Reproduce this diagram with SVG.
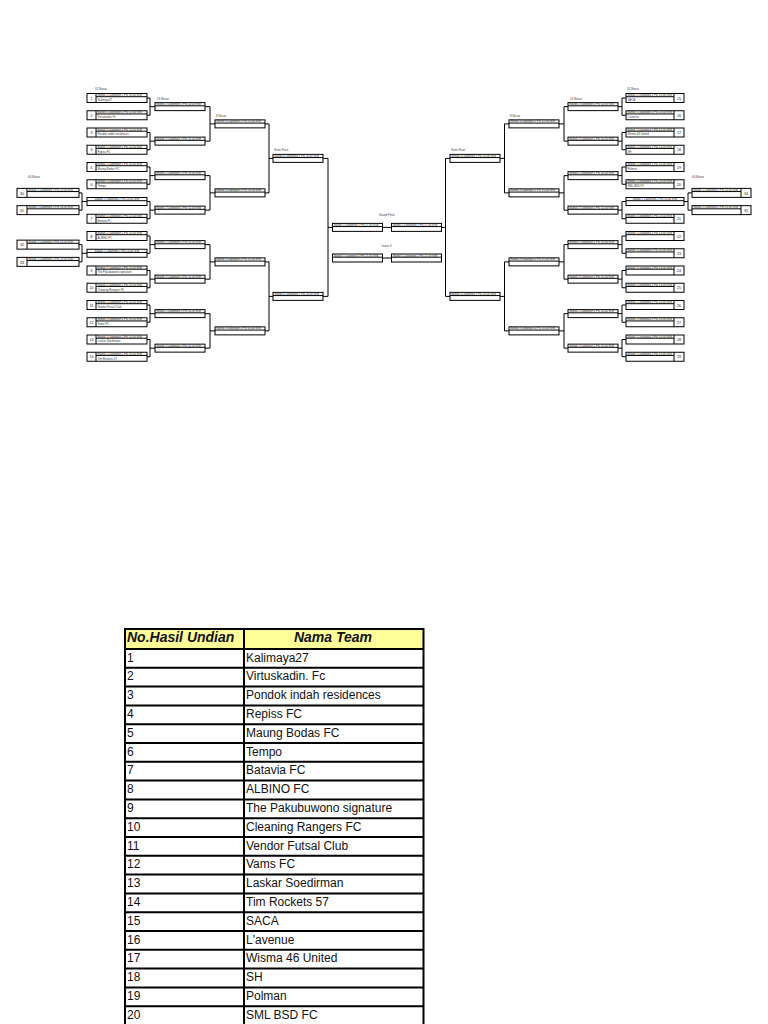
<svg xmlns="http://www.w3.org/2000/svg" xmlns:xlink="http://www.w3.org/1999/xlink" width="768" height="1024" viewBox="0 0 768 1024">
<style>
.b{fill:#fff;stroke:#000;stroke-width:1}
.l{fill:none;stroke:#000;stroke-width:1}
.t{font-family:"Liberation Sans",Arial,sans-serif;font-size:2.8px;fill:#333}
.n{font-family:"Liberation Sans",Arial,sans-serif;font-size:3.6px;fill:#111;text-anchor:middle}
.lab{font-family:"Liberation Sans",Arial,sans-serif;font-size:3px;fill:#444}
.c{text-anchor:middle}
.tl{fill:none;stroke:#000;stroke-width:2}
.tt{font-family:"Liberation Sans",Arial,sans-serif;font-size:12px;fill:#111}
.th{font-family:"Liberation Sans",Arial,sans-serif;font-size:14px;font-weight:bold;font-style:italic;fill:#111}
</style>
<defs>
<g id="tbL"><rect class="b" x="0" y="0" width="60" height="9"/><path class="l" d="M9 0V9M9 3.2H60"/></g>
<g id="tbR"><rect class="b" x="0" y="0" width="58" height="9"/><path class="l" d="M48 0V9M0 3.2H48"/></g>
<g id="pbL"><rect class="b" x="0" y="0" width="62" height="9"/><path class="l" d="M10 0V9M10 3.2H62"/></g>
<g id="pbR"><rect class="b" x="0" y="0" width="59" height="9"/><path class="l" d="M49 0V9M0 3.2H49"/></g>
<g id="mb"><rect class="b" x="0" y="0" width="50" height="8"/><path class="l" d="M0 3.2H50"/></g>
<g id="wb"><rect class="b" x="0" y="0" width="60" height="8"/><path class="l" d="M0 3.2H60"/></g>
<g id="wbR"><rect class="b" x="0" y="0" width="58" height="8"/><path class="l" d="M0 3.2H58"/></g>
</defs>

<g id="labels">
<text class="lab" x="28" y="178">64 Besar</text>
<text class="lab" x="95" y="90">32 Besar</text>
<text class="lab" x="157" y="100">16 Besar</text>
<text class="lab" x="216" y="117">8 Besar</text>
<text class="lab" x="274" y="151">Semi Final</text>
<text class="lab c" x="386.5" y="216">Grand Final</text>
<text class="lab c" x="386.5" y="247">Juara 3</text>
<text class="lab" x="451" y="151">Semi Final</text>
<text class="lab" x="510" y="117">8 Besar</text>
<text class="lab" x="570" y="100">16 Besar</text>
<text class="lab" x="627" y="90">32 Besar</text>
<text class="lab" x="692" y="178">64 Besar</text>
</g>

<g id="connectors">
<path class="l" d="M79 192.875H82V210.125H79M82 201.5H87M79 244.625H82V261.875H79M82 253.25H87"/>
<path class="l" d="M147 98H150V115.25H147M150 106.625H155M147 132.5H150V149.75H147M150 141.125H155M147 167H150V184.25H147M150 175.625H155M147 201.5H150V218.75H147M150 210.125H155M147 236H150V253.25H147M150 244.625H155M147 270.5H150V287.75H147M150 279.125H155M147 305H150V322.25H147M150 313.625H155M147 339.5H150V356.75H147M150 348.125H155"/>
<path class="l" d="M205 106.625H210V141.125H205M210 123.875H215M205 175.625H210V210.125H205M210 192.875H215M205 244.625H210V279.125H205M210 261.875H215M205 313.625H210V348.125H205M210 330.875H215"/>
<path class="l" d="M265 123.875H269V192.875H265M269 158.375H273M265 261.875H269V330.875H265M269 296.375H273"/>
<path class="l" d="M323 158.375H328V296.375H323M328 227.375H332.5"/>
<path class="l" d="M382.5 227.375H391.5M382.5 258H391.5"/>
<path class="l" d="M450 158.375H445.5V296.375H450M445.5 227.375H441.5"/>
<path class="l" d="M509 123.875H504.5V192.875H509M504.5 158.375H500M509 261.875H504.5V330.875H509M504.5 296.375H500"/>
<path class="l" d="M568 106.625H564V141.125H568M564 123.875H559M568 175.625H564V210.125H568M564 192.875H559M568 244.625H564V279.125H568M564 261.875H559M568 313.625H564V348.125H568M564 330.875H559"/>
<path class="l" d="M626 98H622V115.25H626M622 106.625H618M626 132.5H622V149.75H626M622 141.125H618M626 167H622V184.25H626M622 175.625H618M626 201.5H622V218.75H626M622 210.125H618M626 236H622V253.25H626M622 244.625H618M626 270.5H622V287.75H626M622 279.125H618M626 305H622V322.25H626M622 313.625H618M626 339.5H622V356.75H626M622 348.125H618"/>
<path class="l" d="M692 192.875H688V210.125H692M688 201.5H684"/>
</g>

<!-- left preliminary -->
<g id="t30" transform="translate(17,188.375)"><use href="#pbL"/><text class="n" x="5" y="6.2">30</text><text class="t" x="11.5" y="2.5">Babak 1 Lapangan 1 Pkl 13.00 WIB</text></g>
<g id="t31" transform="translate(17,205.625)"><use href="#pbL"/><text class="n" x="5" y="6.2">31</text><text class="t" x="11.5" y="2.5">Babak 1 Lapangan 1 Pkl 13.00 WIB</text></g>
<g id="t32" transform="translate(17,240.125)"><use href="#pbL"/><text class="n" x="5" y="6.2">32</text><text class="t" x="11.5" y="2.5">Babak 1 Lapangan 2 Pkl 13.00 WIB</text></g>
<g id="t33" transform="translate(17,257.375)"><use href="#pbL"/><text class="n" x="5" y="6.2">33</text><text class="t" x="11.5" y="2.5">Babak 1 Lapangan 2 Pkl 13.00 WIB</text></g>

<!-- left round 1 -->
<g id="t1" transform="translate(87,93.5)"><use href="#tbL"/><text class="n" x="4.5" y="6.2">1</text><text class="t" x="10.5" y="2.5">Babak 1 Lapangan 1 Pkl 13.00 WIB</text><text class="t" x="10.5" y="7.4">Kalimaya27</text></g>
<g id="t2" transform="translate(87,110.75)"><use href="#tbL"/><text class="n" x="4.5" y="6.2">2</text><text class="t" x="10.5" y="2.5">Babak 1 Lapangan 1 Pkl 13.00 WIB</text><text class="t" x="10.5" y="7.4">Virtuskadin. Fc</text></g>
<g id="t3" transform="translate(87,128)"><use href="#tbL"/><text class="n" x="4.5" y="6.2">3</text><text class="t" x="10.5" y="2.5">Babak 1 Lapangan 1 Pkl 13.00 WIB</text><text class="t" x="10.5" y="7.4">Pondok indah residences</text></g>
<g id="t4" transform="translate(87,145.25)"><use href="#tbL"/><text class="n" x="4.5" y="6.2">4</text><text class="t" x="10.5" y="2.5">Babak 1 Lapangan 1 Pkl 13.00 WIB</text><text class="t" x="10.5" y="7.4">Repiss FC</text></g>
<g id="t5" transform="translate(87,162.5)"><use href="#tbL"/><text class="n" x="4.5" y="6.2">5</text><text class="t" x="10.5" y="2.5">Babak 1 Lapangan 1 Pkl 13.00 WIB</text><text class="t" x="10.5" y="7.4">Maung Bodas FC</text></g>
<g id="t6" transform="translate(87,179.75)"><use href="#tbL"/><text class="n" x="4.5" y="6.2">6</text><text class="t" x="10.5" y="2.5">Babak 1 Lapangan 1 Pkl 13.00 WIB</text><text class="t" x="10.5" y="7.4">Tempo</text></g>
<g id="w3031" transform="translate(87,197.5)"><use href="#wb"/><text class="t c" x="30" y="2.5">Babak 2 Lapangan 1 Pkl 14.00 WIB</text></g>
<g id="t7" transform="translate(87,214.25)"><use href="#tbL"/><text class="n" x="4.5" y="6.2">7</text><text class="t" x="10.5" y="2.5">Babak 1 Lapangan 1 Pkl 13.00 WIB</text><text class="t" x="10.5" y="7.4">Batavia FC</text></g>
<g id="t8" transform="translate(87,231.5)"><use href="#tbL"/><text class="n" x="4.5" y="6.2">8</text><text class="t" x="10.5" y="2.5">Babak 1 Lapangan 1 Pkl 13.00 WIB</text><text class="t" x="10.5" y="7.4">ALBINO FC</text></g>
<g id="w3233" transform="translate(87,249.25)"><use href="#wb"/><text class="t c" x="30" y="2.5">Babak 2 Lapangan 2 Pkl 14.00 WIB</text></g>
<g id="t9" transform="translate(87,266)"><use href="#tbL"/><text class="n" x="4.5" y="6.2">9</text><text class="t" x="10.5" y="2.5">Babak 1 Lapangan 2 Pkl 13.00 WIB</text><text class="t" x="10.5" y="7.4">The Pakubuwono signature</text></g>
<g id="t10" transform="translate(87,283.25)"><use href="#tbL"/><text class="n" x="4.5" y="6.2">10</text><text class="t" x="10.5" y="2.5">Babak 1 Lapangan 2 Pkl 13.00 WIB</text><text class="t" x="10.5" y="7.4">Cleaning Rangers FC</text></g>
<g id="t11" transform="translate(87,300.5)"><use href="#tbL"/><text class="n" x="4.5" y="6.2">11</text><text class="t" x="10.5" y="2.5">Babak 1 Lapangan 2 Pkl 13.00 WIB</text><text class="t" x="10.5" y="7.4">Vendor Futsal Club</text></g>
<g id="t12" transform="translate(87,317.75)"><use href="#tbL"/><text class="n" x="4.5" y="6.2">12</text><text class="t" x="10.5" y="2.5">Babak 1 Lapangan 2 Pkl 13.00 WIB</text><text class="t" x="10.5" y="7.4">Vams FC</text></g>
<g id="t13" transform="translate(87,335)"><use href="#tbL"/><text class="n" x="4.5" y="6.2">13</text><text class="t" x="10.5" y="2.5">Babak 1 Lapangan 2 Pkl 13.00 WIB</text><text class="t" x="10.5" y="7.4">Laskar Soedirman</text></g>
<g id="t14" transform="translate(87,352.25)"><use href="#tbL"/><text class="n" x="4.5" y="6.2">14</text><text class="t" x="10.5" y="2.5">Babak 1 Lapangan 2 Pkl 13.00 WIB</text><text class="t" x="10.5" y="7.4">Tim Rockets 57</text></g>

<!-- left round 2 -->
<g id="l2a" transform="translate(155,102.625)"><use href="#mb"/><text class="t" x="1.5" y="2.5">Babak 2 Lapangan 1 Pkl 14.00 WIB</text></g>
<g id="l2b" transform="translate(155,137.125)"><use href="#mb"/><text class="t" x="1.5" y="2.5">Babak 2 Lapangan 1 Pkl 14.00 WIB</text></g>
<g id="l2c" transform="translate(155,171.625)"><use href="#mb"/><text class="t" x="1.5" y="2.5">Babak 2 Lapangan 1 Pkl 14.00 WIB</text></g>
<g id="l2d" transform="translate(155,206.125)"><use href="#mb"/><text class="t" x="1.5" y="2.5">Babak 2 Lapangan 1 Pkl 14.00 WIB</text></g>
<g id="l2e" transform="translate(155,240.625)"><use href="#mb"/><text class="t" x="1.5" y="2.5">Babak 2 Lapangan 2 Pkl 14.00 WIB</text></g>
<g id="l2f" transform="translate(155,275.125)"><use href="#mb"/><text class="t" x="1.5" y="2.5">Babak 2 Lapangan 2 Pkl 14.00 WIB</text></g>
<g id="l2g" transform="translate(155,309.625)"><use href="#mb"/><text class="t" x="1.5" y="2.5">Babak 2 Lapangan 2 Pkl 14.00 WIB</text></g>
<g id="l2h" transform="translate(155,344.125)"><use href="#mb"/><text class="t" x="1.5" y="2.5">Babak 2 Lapangan 2 Pkl 14.00 WIB</text></g>

<!-- left round 3 -->
<g id="l3a" transform="translate(215,119.875)"><use href="#mb"/><text class="t" x="1.5" y="2.5">Babak 3 Lapangan 1 Pkl 15.00 WIB</text></g>
<g id="l3b" transform="translate(215,188.875)"><use href="#mb"/><text class="t" x="1.5" y="2.5">Babak 3 Lapangan 1 Pkl 15.00 WIB</text></g>
<g id="l3c" transform="translate(215,257.875)"><use href="#mb"/><text class="t" x="1.5" y="2.5">Babak 3 Lapangan 2 Pkl 15.00 WIB</text></g>
<g id="l3d" transform="translate(215,326.875)"><use href="#mb"/><text class="t" x="1.5" y="2.5">Babak 3 Lapangan 2 Pkl 15.00 WIB</text></g>

<!-- left semifinal -->
<g id="lsa" transform="translate(273,154.375)"><use href="#mb"/><text class="t" x="1.5" y="2.5">Babak 4 Lapangan 1 Pkl 16.00 WIB</text></g>
<g id="lsb" transform="translate(273,292.375)"><use href="#mb"/><text class="t" x="1.5" y="2.5">Babak 4 Lapangan 2 Pkl 16.00 WIB</text></g>

<!-- finals -->
<g id="fl" transform="translate(332.5,223.375)"><use href="#mb"/><text class="t" x="1.5" y="2.5">Babak 5 Lapangan 1 Pkl 17.00 WIB</text></g>
<g id="fr" transform="translate(391.5,223.375)"><use href="#mb"/><text class="t" x="1.5" y="2.5">Babak 5 Lapangan 1 Pkl 17.00 WIB</text></g>
<g id="tl3" transform="translate(332.5,254)"><use href="#mb"/><text class="t" x="1.5" y="2.5">Babak 5 Lapangan 2 Pkl 17.00 WIB</text></g>
<g id="tr3" transform="translate(391.5,254)"><use href="#mb"/><text class="t" x="1.5" y="2.5">Babak 5 Lapangan 2 Pkl 17.00 WIB</text></g>

<!-- right semifinal -->
<g id="rsa" transform="translate(450,154.375)"><use href="#mb"/><text class="t" x="1.5" y="2.5">Babak 4 Lapangan 1 Pkl 16.00 WIB</text></g>
<g id="rsb" transform="translate(450,292.375)"><use href="#mb"/><text class="t" x="1.5" y="2.5">Babak 4 Lapangan 2 Pkl 16.00 WIB</text></g>

<!-- right round 3 -->
<g id="r3a" transform="translate(509,119.875)"><use href="#mb"/><text class="t" x="1.5" y="2.5">Babak 3 Lapangan 1 Pkl 15.00 WIB</text></g>
<g id="r3b" transform="translate(509,188.875)"><use href="#mb"/><text class="t" x="1.5" y="2.5">Babak 3 Lapangan 1 Pkl 15.00 WIB</text></g>
<g id="r3c" transform="translate(509,257.875)"><use href="#mb"/><text class="t" x="1.5" y="2.5">Babak 3 Lapangan 2 Pkl 15.00 WIB</text></g>
<g id="r3d" transform="translate(509,326.875)"><use href="#mb"/><text class="t" x="1.5" y="2.5">Babak 3 Lapangan 2 Pkl 15.00 WIB</text></g>

<!-- right round 2 -->
<g id="r2a" transform="translate(568,102.625)"><use href="#mb"/><text class="t" x="1.5" y="2.5">Babak 2 Lapangan 1 Pkl 14.00 WIB</text></g>
<g id="r2b" transform="translate(568,137.125)"><use href="#mb"/><text class="t" x="1.5" y="2.5">Babak 2 Lapangan 1 Pkl 14.00 WIB</text></g>
<g id="r2c" transform="translate(568,171.625)"><use href="#mb"/><text class="t" x="1.5" y="2.5">Babak 2 Lapangan 1 Pkl 14.00 WIB</text></g>
<g id="r2d" transform="translate(568,206.125)"><use href="#mb"/><text class="t" x="1.5" y="2.5">Babak 2 Lapangan 1 Pkl 14.00 WIB</text></g>
<g id="r2e" transform="translate(568,240.625)"><use href="#mb"/><text class="t" x="1.5" y="2.5">Babak 2 Lapangan 2 Pkl 14.00 WIB</text></g>
<g id="r2f" transform="translate(568,275.125)"><use href="#mb"/><text class="t" x="1.5" y="2.5">Babak 2 Lapangan 2 Pkl 14.00 WIB</text></g>
<g id="r2g" transform="translate(568,309.625)"><use href="#mb"/><text class="t" x="1.5" y="2.5">Babak 2 Lapangan 2 Pkl 14.00 WIB</text></g>
<g id="r2h" transform="translate(568,344.125)"><use href="#mb"/><text class="t" x="1.5" y="2.5">Babak 2 Lapangan 2 Pkl 14.00 WIB</text></g>

<!-- right round 1 -->
<g id="t15" transform="translate(626,93.5)"><use href="#tbR"/><text class="n" x="53" y="6.2">15</text><text class="t" x="1.5" y="2.5">Babak 1 Lapangan 1 Pkl 13.00 WIB</text><text class="t" x="1.5" y="7.4">SACA</text></g>
<g id="t16" transform="translate(626,110.75)"><use href="#tbR"/><text class="n" x="53" y="6.2">16</text><text class="t" x="1.5" y="2.5">Babak 1 Lapangan 1 Pkl 13.00 WIB</text><text class="t" x="1.5" y="7.4">L'avenue</text></g>
<g id="t17" transform="translate(626,128)"><use href="#tbR"/><text class="n" x="53" y="6.2">17</text><text class="t" x="1.5" y="2.5">Babak 1 Lapangan 1 Pkl 13.00 WIB</text><text class="t" x="1.5" y="7.4">Wisma 46 United</text></g>
<g id="t18" transform="translate(626,145.25)"><use href="#tbR"/><text class="n" x="53" y="6.2">18</text><text class="t" x="1.5" y="2.5">Babak 1 Lapangan 1 Pkl 13.00 WIB</text><text class="t" x="1.5" y="7.4">SH</text></g>
<g id="t19" transform="translate(626,162.5)"><use href="#tbR"/><text class="n" x="53" y="6.2">19</text><text class="t" x="1.5" y="2.5">Babak 1 Lapangan 1 Pkl 13.00 WIB</text><text class="t" x="1.5" y="7.4">Polman</text></g>
<g id="t20" transform="translate(626,179.75)"><use href="#tbR"/><text class="n" x="53" y="6.2">20</text><text class="t" x="1.5" y="2.5">Babak 1 Lapangan 1 Pkl 13.00 WIB</text><text class="t" x="1.5" y="7.4">SML BSD FC</text></g>
<g id="w3435" transform="translate(626,197.5)"><use href="#wbR"/><text class="t c" x="29" y="2.5">Babak 2 Lapangan 1 Pkl 14.00 WIB</text></g>
<g id="t21" transform="translate(626,214.25)"><use href="#tbR"/><text class="n" x="53" y="6.2">21</text><text class="t" x="1.5" y="2.5">Babak 1 Lapangan 1 Pkl 13.00 WIB</text></g>
<g id="t22" transform="translate(626,231.5)"><use href="#tbR"/><text class="n" x="53" y="6.2">22</text><text class="t" x="1.5" y="2.5">Babak 1 Lapangan 1 Pkl 13.00 WIB</text></g>
<g id="t23" transform="translate(626,248.75)"><use href="#tbR"/><text class="n" x="53" y="6.2">23</text><text class="t" x="1.5" y="2.5">Babak 1 Lapangan 2 Pkl 13.00 WIB</text></g>
<g id="t24" transform="translate(626,266)"><use href="#tbR"/><text class="n" x="53" y="6.2">24</text><text class="t" x="1.5" y="2.5">Babak 1 Lapangan 2 Pkl 13.00 WIB</text></g>
<g id="t25" transform="translate(626,283.25)"><use href="#tbR"/><text class="n" x="53" y="6.2">25</text><text class="t" x="1.5" y="2.5">Babak 1 Lapangan 2 Pkl 13.00 WIB</text></g>
<g id="t26" transform="translate(626,300.5)"><use href="#tbR"/><text class="n" x="53" y="6.2">26</text><text class="t" x="1.5" y="2.5">Babak 1 Lapangan 2 Pkl 13.00 WIB</text></g>
<g id="t27" transform="translate(626,317.75)"><use href="#tbR"/><text class="n" x="53" y="6.2">27</text><text class="t" x="1.5" y="2.5">Babak 1 Lapangan 2 Pkl 13.00 WIB</text></g>
<g id="t28" transform="translate(626,335)"><use href="#tbR"/><text class="n" x="53" y="6.2">28</text><text class="t" x="1.5" y="2.5">Babak 1 Lapangan 2 Pkl 13.00 WIB</text></g>
<g id="t29" transform="translate(626,352.25)"><use href="#tbR"/><text class="n" x="53" y="6.2">29</text><text class="t" x="1.5" y="2.5">Babak 1 Lapangan 2 Pkl 13.00 WIB</text></g>

<!-- right preliminary -->
<g id="t34" transform="translate(692,188.375)"><use href="#pbR"/><text class="n" x="54" y="6.2">34</text><text class="t" x="1.5" y="2.5">Babak 1 Lapangan 1 Pkl 13.00 WIB</text></g>
<g id="t35" transform="translate(692,205.625)"><use href="#pbR"/><text class="n" x="54" y="6.2">35</text><text class="t" x="1.5" y="2.5">Babak 1 Lapangan 1 Pkl 13.00 WIB</text></g>

<!-- table -->
<g id="table">
<rect x="125" y="629" width="298.5" height="20" fill="#ffff99"/>
<rect x="125" y="649" width="298.5" height="380" fill="#fff"/>
<path class="tl" d="M125 629V1030M244 629V1030M423.5 629V1030M124 629H424.5M124 649H424.5M124 667.8H424.5M124 686.6H424.5M124 705.4H424.5M124 724.2H424.5M124 743H424.5M124 761.8H424.5M124 780.6H424.5M124 799.4H424.5M124 818.2H424.5M124 837H424.5M124 855.8H424.5M124 874.6H424.5M124 893.4H424.5M124 912.2H424.5M124 931H424.5M124 949.8H424.5M124 968.6H424.5M124 987.4H424.5M124 1006.2H424.5M124 1025H424.5"/>
<text class="th" x="127" y="642">No.Hasil Undian</text>
<text class="th" x="333" y="642" text-anchor="middle">Nama Team</text>
<text class="tt" x="127" y="661.5">1</text><text class="tt" x="246" y="661.5">Kalimaya27</text>
<text class="tt" x="127" y="680.3">2</text><text class="tt" x="246" y="680.3">Virtuskadin. Fc</text>
<text class="tt" x="127" y="699.1">3</text><text class="tt" x="246" y="699.1">Pondok indah residences</text>
<text class="tt" x="127" y="717.9">4</text><text class="tt" x="246" y="717.9">Repiss FC</text>
<text class="tt" x="127" y="736.7">5</text><text class="tt" x="246" y="736.7">Maung Bodas FC</text>
<text class="tt" x="127" y="755.5">6</text><text class="tt" x="246" y="755.5">Tempo</text>
<text class="tt" x="127" y="774.3">7</text><text class="tt" x="246" y="774.3">Batavia FC</text>
<text class="tt" x="127" y="793.1">8</text><text class="tt" x="246" y="793.1">ALBINO FC</text>
<text class="tt" x="127" y="811.9">9</text><text class="tt" x="246" y="811.9">The Pakubuwono signature</text>
<text class="tt" x="127" y="830.7">10</text><text class="tt" x="246" y="830.7">Cleaning Rangers FC</text>
<text class="tt" x="127" y="849.5">11</text><text class="tt" x="246" y="849.5">Vendor Futsal Club</text>
<text class="tt" x="127" y="868.3">12</text><text class="tt" x="246" y="868.3">Vams FC</text>
<text class="tt" x="127" y="887.1">13</text><text class="tt" x="246" y="887.1">Laskar Soedirman</text>
<text class="tt" x="127" y="905.9">14</text><text class="tt" x="246" y="905.9">Tim Rockets 57</text>
<text class="tt" x="127" y="924.7">15</text><text class="tt" x="246" y="924.7">SACA</text>
<text class="tt" x="127" y="943.5">16</text><text class="tt" x="246" y="943.5">L'avenue</text>
<text class="tt" x="127" y="962.3">17</text><text class="tt" x="246" y="962.3">Wisma 46 United</text>
<text class="tt" x="127" y="981.1">18</text><text class="tt" x="246" y="981.1">SH</text>
<text class="tt" x="127" y="999.9">19</text><text class="tt" x="246" y="999.9">Polman</text>
<text class="tt" x="127" y="1018.7">20</text><text class="tt" x="246" y="1018.7">SML BSD FC</text>
</g>
</svg>
